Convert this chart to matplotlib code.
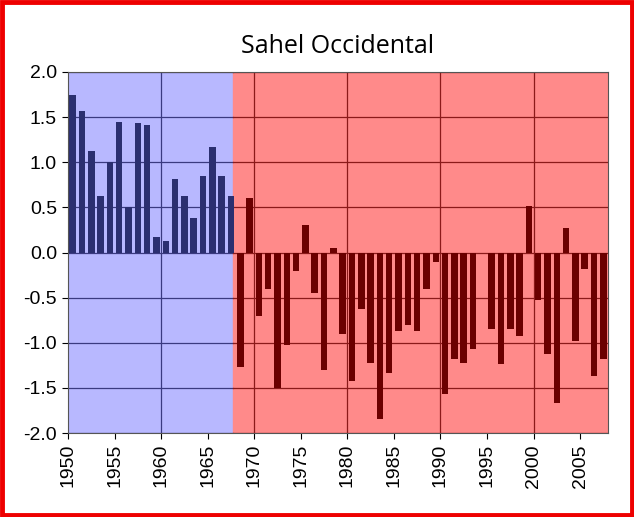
import numpy as np
import matplotlib.pyplot as plt
from matplotlib.patches import Rectangle

plt.rcParams["font.family"] = ["Liberation Sans", "DejaVu Sans"]

years_wet = np.arange(1950, 1968)
vals_wet = [1.75, 1.57, 1.12, 0.63, 1.0, 1.45, 0.5, 1.43, 1.41, 0.17, 0.13, 0.81,
            0.63, 0.38, 0.85, 1.17, 0.85, 0.63]
years_dry = np.arange(1968, 2008)
vals_dry = [-1.27, 0.6, -0.7, -0.4, -1.5, -1.02, -0.2, 0.3, -0.45, -1.3, 0.05, -0.9,
            -1.42, -0.63, -1.22, -1.84, -1.33, -0.87, -0.8, -0.87, -0.4, -0.1,
            -1.57, -1.18, -1.22, -1.07, 0.0, -0.85, -1.24, -0.85, -0.92, 0.52,
            -0.53, -1.13, -1.67, 0.27, -0.98, -0.18, -1.37, -1.18]
xticks = list(range(1950, 2010, 5))
yticks = np.arange(-2.0, 2.01, 0.5)

fig = plt.figure(figsize=(6.34, 5.17), dpi=100)
fig.patches.append(Rectangle((0.003, 0.004), 0.994, 0.992, transform=fig.transFigure,
                             fill=False, edgecolor="#ee0000", lw=3.5))
ax = fig.add_axes([68/634, 1-433/517, 540/634, 361/517])
ax.set_xlim(1950, 2008)
ax.set_ylim(-2, 2)
ax.axvspan(1950, 1967.7, color="#b8b8ff", zorder=0)
ax.axvspan(1967.7, 2008, color="#ff8a8a", zorder=0)

for y in yticks:
    ax.plot([1950, 1967.7], [y, y], color="#3a3a80", lw=0.9, zorder=1)
    ax.plot([1967.7, 2008], [y, y], color="#8b1a1a", lw=0.9, zorder=1)
for x in range(1960, 2008, 10):
    ax.axvline(x, color="#3a3a80" if x < 1968 else "#8b1a1a", lw=0.9, zorder=1)

ax.bar(years_wet + 0.5, vals_wet, width=0.7, color="#2b2f70", zorder=2)
ax.bar(years_dry + 0.5, vals_dry, width=0.7, color="#6b0000", zorder=2)

ax.set_xticks(xticks)
ax.set_xticklabels([str(x) for x in xticks], rotation=90, fontsize=14)
ax.set_yticks(yticks)
ax.set_yticklabels([f"{y:.1f}" for y in yticks], fontsize=14)
ax.tick_params(length=4, pad=4)
for s in ax.spines.values():
    s.set_color("#555555")
ax.set_title("Sahel Occidental", fontsize=18, pad=14, family=["Open Sans", "DejaVu Sans"])

fig.savefig("out.png", dpi=100)
